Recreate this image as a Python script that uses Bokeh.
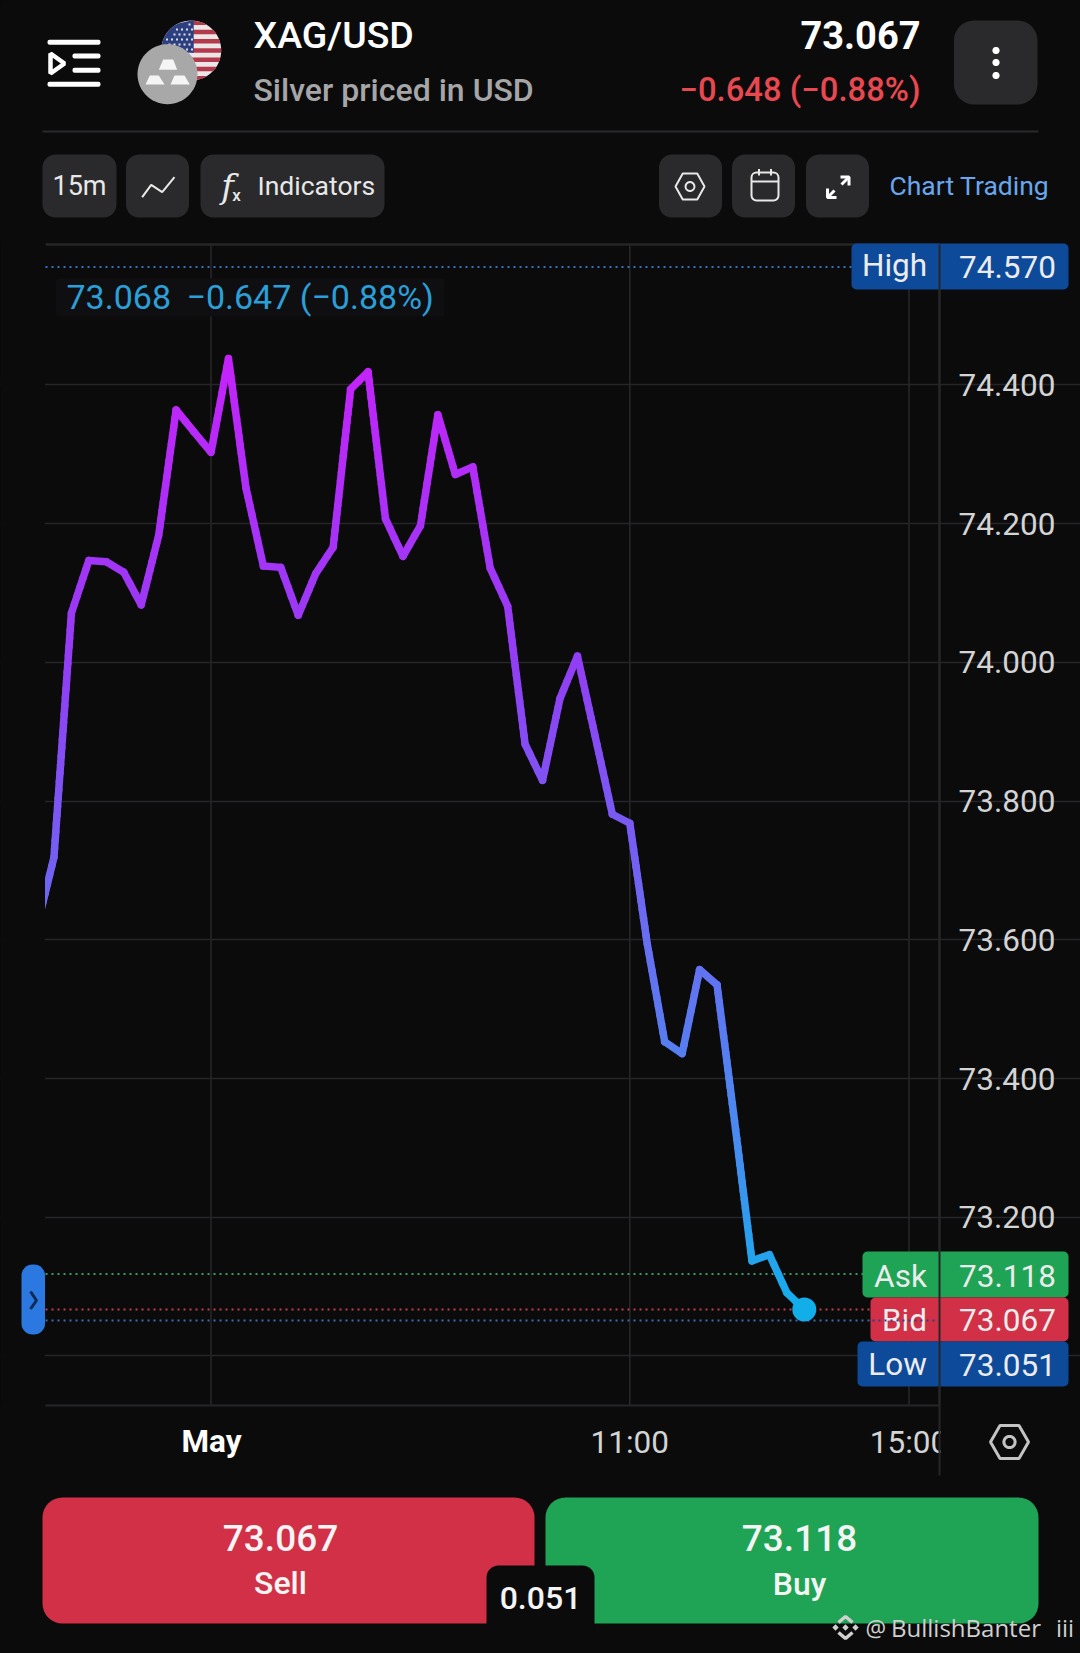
import numpy as np
from bokeh.embed import file_html
from bokeh.models import (BoxAnnotation, ColumnDataSource, FixedTicker, Label, PolyAnnotation,
                          Range1d)
from bokeh.plotting import figure
from bokeh.resources import INLINE

# ---- data ----
PRICES = [73.616, 73.719, 74.071, 74.147, 74.145, 74.130, 74.083, 74.183, 74.364, 74.333,
          74.303, 74.438, 74.252, 74.139, 74.137, 74.068, 74.128, 74.166, 74.394, 74.419,
          74.207, 74.153, 74.197, 74.357, 74.271, 74.282, 74.136, 74.081, 73.882, 73.830,
          73.948, 74.009, 73.895, 73.781, 73.768, 73.594, 73.453, 73.436, 73.557, 73.535,
          73.339, 73.137, 73.146, 73.091, 73.067]
BARS = list(range(len(PRICES)))
PRICE_TICKS = [73.2, 73.4, 73.6, 73.8, 74.0, 74.2, 74.4]
PRICE_TICK_LABELS = ["73.200", "73.400", "73.600", "73.800", "74.000", "74.200", "74.400"]
GRID_PRICES = [73.0] + PRICE_TICKS
TIME_TICKS = [10, 34, 50]
TIME_LABELS = ["", "11:00", "15:00"]
HIGH, ASK, BID, LOW = 74.570, 73.118, 73.067, 73.051
SYMBOL = "XAG/USD"
NAME = "Silver priced in USD"
LAST = "73.067"
CHANGE = "\u22120.648 (\u22120.88%)"
LEGEND_LAST = "73.068"
LEGEND_CHANGE = "\u22120.647 (\u22120.88%)"
SPREAD = "0.051"

BG = "#0b0b0c"
BTN = "#2a2a2c"
GRID = "#262628"
BLUE = "#0d4a9a"
GREEN = "#1fa355"
RED = "#d23047"
FONT = "Roboto"
MED = "Roboto Medium"

W, H = 1080, 1653
BAR_L, BAR_R = 0.516, 51.75      # left and right ends of the plot area, in bars
PRICE_B, PRICE_T = 72.929, 74.6026  # lower and upper ends of the plot area

p = figure(width=W, height=H, output_backend="svg", toolbar_location=None,
           x_range=Range1d(-2.063, 59.828), y_range=Range1d(72.5709, 74.9544),
           y_axis_location="right", x_axis_location="below",
           min_border=0, min_border_left=0, min_border_right=0, min_border_top=0,
           min_border_bottom=0, background_fill_color=BG, border_fill_color=BG)
p.outline_line_color = None

p.yaxis.ticker = FixedTicker(ticks=PRICE_TICKS)
p.yaxis.major_label_overrides = dict(zip(PRICE_TICKS, PRICE_TICK_LABELS))
p.yaxis.fixed_location = BAR_R
p.yaxis.bounds = (PRICE_B, PRICE_T)
p.xaxis.ticker = FixedTicker(ticks=TIME_TICKS)
p.xaxis.major_label_overrides = dict(zip(TIME_TICKS, TIME_LABELS))
p.xaxis.fixed_location = PRICE_B
p.xaxis.bounds = (BAR_L, BAR_R)
for ax in (p.yaxis[0], p.xaxis[0]):
    ax.major_tick_line_color = None
    ax.minor_tick_line_color = None
    ax.axis_line_color = GRID
    ax.axis_line_width = 2
    ax.major_label_text_font = FONT
    ax.major_label_text_font_size = "31.5px"
    ax.major_label_text_color = "#d4d4d4"
p.yaxis.major_label_standoff = 13
p.xaxis.major_label_standoff = 13
p.ygrid.ticker = FixedTicker(ticks=GRID_PRICES)
p.ygrid.bounds = (BAR_L, BAR_R)
p.ygrid.grid_line_color = GRID
p.ygrid.grid_line_width = 1.6
p.xgrid.grid_line_color = None

# vertical time rules, dotted level lines and top edge
p.segment(TIME_TICKS, [PRICE_B] * 3, TIME_TICKS, [PRICE_T] * 3, line_color=GRID, line_width=1.6)
p.segment([BAR_L], [PRICE_T], [BAR_R], [PRICE_T], line_color=GRID, line_width=2.5)
for lvl, col in ((HIGH, "#3a70c0"), (ASK, "#3f9a60"), (BID, "#c04050"), (LOW, "#3a6cb0")):
    p.segment([BAR_L], [lvl], [BAR_R], [lvl], line_color=col, line_width=2, line_dash="2 4")

# price line, vertical colour ramp along the price scale
STOP_P = [73.05, 73.3, 73.6, 74.0, 74.45]
STOP_C = np.array([[16, 176, 236], [72, 140, 240], [104, 110, 242], [146, 62, 244], [198, 34, 250]])


def ramp(v):
    return "#%02x%02x%02x" % tuple(int(round(np.interp(v, STOP_P, STOP_C[:, k]))) for k in range(3))


seg_x, seg_y, seg_c = [], [], []
for i in range(len(PRICES) - 1):
    n = max(1, int(abs(PRICES[i + 1] - PRICES[i]) / 0.012))
    xs = np.linspace(BARS[i], BARS[i + 1], n + 1)
    ys = np.linspace(PRICES[i], PRICES[i + 1], n + 1)
    for k in range(n):
        seg_x.append(xs[k:k + 2].tolist())
        seg_y.append(ys[k:k + 2].tolist())
        seg_c.append(ramp((ys[k] + ys[k + 1]) / 2))
p.multi_line("x", "y", color="c", line_width=7.5, line_cap="round", line_join="round",
             source=ColumnDataSource(dict(x=seg_x, y=seg_y, c=seg_c)))
p.scatter(BARS[-1:], PRICES[-1:], size=24, color="#12aeea", line_color=None)


# ---- helpers: positions are given in page pixels ----
def box(l, t, r, b, color, radius=0, line=None, lw=0):
    p.add_layout(BoxAnnotation(left=l, right=r, top=t, bottom=b,
                               left_units="canvas", right_units="canvas", top_units="canvas",
                               bottom_units="canvas", fill_color=color, fill_alpha=1 if color else 0,
                               line_color=line, line_width=lw, line_alpha=1, border_radius=radius))


def txt(x, y, s, size, color="#ffffff", align="center", font=FONT, style="normal"):
    p.add_layout(Label(x=x, y=y, x_units="canvas", y_units="canvas", text=s, text_align=align,
                       text_baseline="middle", text_font=font, text_font_size=f"{size}px",
                       text_color=color, text_font_style=style))


def poly(xs, ys, fill=None, line=None, lw=0):
    p.add_layout(PolyAnnotation(xs=list(xs), ys=list(ys), xs_units="canvas",
                                ys_units="canvas", fill_color=fill, fill_alpha=1 if fill else 0,
                                line_color=line, line_width=lw, line_alpha=1 if line else 0))


def stroke(pts, color, lw):
    xs = [a for a, _ in pts]
    ys = [b for _, b in pts]
    poly(xs + xs[-2:0:-1], ys + ys[-2:0:-1], None, color, lw)


def circle(cx, cy, r, fill=None, line=None, lw=0):
    t = np.linspace(0, 2 * np.pi, 60, endpoint=False)
    poly((cx + r * np.cos(t)).tolist(), (cy + r * np.sin(t)).tolist(), fill, line, lw)


def hexagon(l, t, r, b, line, lw):
    cy = (t + b) / 2
    w = (r - l) / 4
    poly([l, l + w, r - w, r, r - w, l + w], [cy, t, t, cy, b, b], None, line, lw)
    circle((l + r) / 2, cy, (b - t) * 0.17, None, line, lw)


# mask left of the plot area (the line runs on past its left edge)
box(0, 244, 44.5, 1400, BG)

# ---- header ----
box(47, 39.3, 100, 44.3, "#ffffff", 2)
box(47, 81.3, 100, 86.3, "#ffffff", 2)
box(72, 53, 100, 58, "#ffffff", 2)
box(72, 67.3, 100, 72.3, "#ffffff", 2)
poly([50, 64, 50], [53, 63, 73], None, "#ffffff", 4.5)

# flag
FCX, FCY, FR_ = 190.7, 50, 30
circle(FCX, FCY, FR_, "#ece6e6")
edges = np.linspace(FCY - FR_, FCY + FR_, 14)
for j in range(0, 13, 2):
    yy = np.linspace(edges[j], edges[j + 1], 6)
    half = np.sqrt(np.maximum(FR_ ** 2 - (yy - FCY) ** 2, 0))
    left = FCX - half
    right = FCX + half
    if j < 7:
        left = np.maximum(left, FCX)
    poly(left.tolist() + right[::-1].tolist(), yy.tolist() + yy[::-1].tolist(), "#b23a4a")
yy = np.linspace(FCY - FR_, edges[7], 12)
half = np.sqrt(np.maximum(FR_ ** 2 - (yy - FCY) ** 2, 0))
poly((FCX - half).tolist() + [FCX + 2.5] * 12, yy.tolist() + yy[::-1].tolist(), "#2c3f80")
for row, sy in enumerate(np.arange(23, 52, 5.0)):
    for sx in np.arange(163 + 2.5 * (row % 2), 192, 5.0):
        if (sx - FCX) ** 2 + (sy - FCY) ** 2 < 28 ** 2:
            box(sx, sy, sx + 2, sy + 2, "#dfe0ec")
# silver coin
circle(167, 73.7, 30, "#a8a8a8")
for a, b, c, d, t, bt in ((162.7, 172.7, 158.3, 176.7, 59, 69.3), (149.3, 158.3, 145, 164, 75, 84),
                          (174, 184, 170, 189.3, 75, 84)):
    poly([a, b, d, c], [t, t, bt, bt], "#f5f5f5")

txt(253, 34, SYMBOL, 37.5, align="left", font=MED)
txt(253, 89, NAME, 32, "#a6a6a8", align="left", font=MED)
txt(920, 34, LAST, 38, align="right", style="bold")
txt(920, 89, CHANGE, 32.8, "#e8484f", align="right", font=MED)
box(953.5, 20, 1037, 104, BTN, 20)
for yy_ in (50, 62, 75):
    circle(995.5, yy_, 3.6, "#ffffff")
box(42, 130, 1038, 132, BTN)

# ---- toolbar ----
box(42, 154, 116, 217, BTN, 13)
txt(79, 185, "15m", 27, "#e8e8e8")
box(125.5, 154, 188.5, 217, BTN, 13)
stroke([(141.7, 196.7), (150.7, 184.3), (161.7, 191.7), (174, 176.7)], "#e8e8e8", 2)
box(200, 154, 384, 217, BTN, 13)
txt(227, 185, "f", 34, "#e8e8e8", font="DejaVu Serif", style="italic")
txt(236, 194, "x", 17, "#e8e8e8", font=MED)
txt(257, 185, "Indicators", 26.5, "#e8e8e8", align="left")
box(658.5, 154, 721.5, 217, BTN, 13)
hexagon(675, 173, 704, 199, "#e8e8e8", 2)
box(731.5, 154, 794.5, 217, BTN, 13)
box(751, 172, 778, 200, None, 5, "#e8e8e8", 2)
box(751, 180, 778, 182, "#e8e8e8")
box(757.5, 168.5, 759.5, 175, "#e8e8e8")
box(769.5, 168.5, 771.5, 175, "#e8e8e8")
box(805.5, 154, 868.5, 217, BTN, 13)
stroke([(841, 184), (848, 177)], "#ffffff", 3)
stroke([(840, 176.5), (848.5, 176.5), (848.5, 185)], "#ffffff", 3)
stroke([(834, 190), (827, 197)], "#ffffff", 3)
stroke([(827, 188), (827, 197), (836, 197)], "#ffffff", 3)
txt(889, 185, "Chart Trading", 26.5, "#6aa6ec", align="left")

# ---- chart overlays ----
box(55, 278, 444, 316, "#0f0f11", 4)
txt(66, 296, LEGEND_LAST, 34, "#2b9fd8", align="left")
txt(186, 296, LEGEND_CHANGE, 34, "#2b9fd8", align="left")

box(21, 1264, 44.5, 1334, "#2a78e0", 11)
stroke([(30, 1291), (36, 1300), (30, 1308.5)], "#0f2a55", 3)

txt(211, 1441, "May", 31.5, align="center", style="bold")

# chips
box(851, 243, 1068, 289, BLUE, 5)
txt(894, 265, "High", 31.5, "#ececec")
txt(1007, 266, f"{HIGH:.3f}", 31.5, "#ececec")
box(862, 1251, 1068, 1297, GREEN, 5)
txt(900, 1276, "Ask", 31.5, "#ececec")
txt(1007, 1275, f"{ASK:.3f}", 31.5, "#ececec")
box(870, 1297, 1068, 1341, RED, 5)
txt(904, 1320, "Bid", 31.5, "#ececec")
txt(1007, 1319, f"{BID:.3f}", 31.5, "#ececec")
box(857, 1341, 1068, 1386, BLUE, 5)
txt(897, 1364, "Low", 31.5, "#ececec")
txt(1007, 1364, f"{LOW:.3f}", 31.5, "#ececec")
for dx in np.arange(872, 936, 6):
    box(dx, 1319, dx + 2, 1321, "#27408f")

# cover for the clipped time label, axis rule, settings icon
box(940, 1406, 1072, 1480, BG)
box(938, 244, 940, 1475, GRID)
hexagon(990, 1425, 1028, 1458, "#c4c4c4", 3)

# ---- order buttons ----
box(42, 1497, 534, 1623, RED, 20)
box(545, 1497, 1038, 1623, GREEN, 20)
box(486, 1565, 594, 1645, BG, 12)
txt(280, 1537, LAST, 37, "#f4f4f4", font=MED)
txt(280, 1582, "Sell", 32, "#f4f4f4", font=MED)
txt(799, 1537, "73.118", 37, "#f4f4f4", font=MED)
txt(799, 1583, "Buy", 32, "#f4f4f4", font=MED)
txt(540, 1597, SPREAD, 32, "#f4f4f4", font=MED)

# ---- watermark ----
WM = "#d0d0d0"
stroke([(838, 1622), (845, 1616), (852, 1622)], WM, 3.5)
stroke([(838, 1632), (845, 1638), (852, 1632)], WM, 3.5)
for cx_, cy_ in ((835, 1627), (855, 1627), (845, 1627)):
    poly([cx_ - 3.2, cx_, cx_ + 3.2, cx_], [cy_, cy_ - 3.2, cy_, cy_ + 3.2], WM)
txt(865, 1627, "@", 23, WM, align="left", font="Open Sans")
txt(890.5, 1627, "BullishBanter", 24, WM, align="left", font="Open Sans")
txt(1055.5, 1627, "iii", 24, WM, align="left", font="Open Sans")

html = file_html(p, INLINE)
html = html.replace("</head>", f"<style>html,body{{background:{BG};}}</style></head>")
open("out.html", "w").write(html)
